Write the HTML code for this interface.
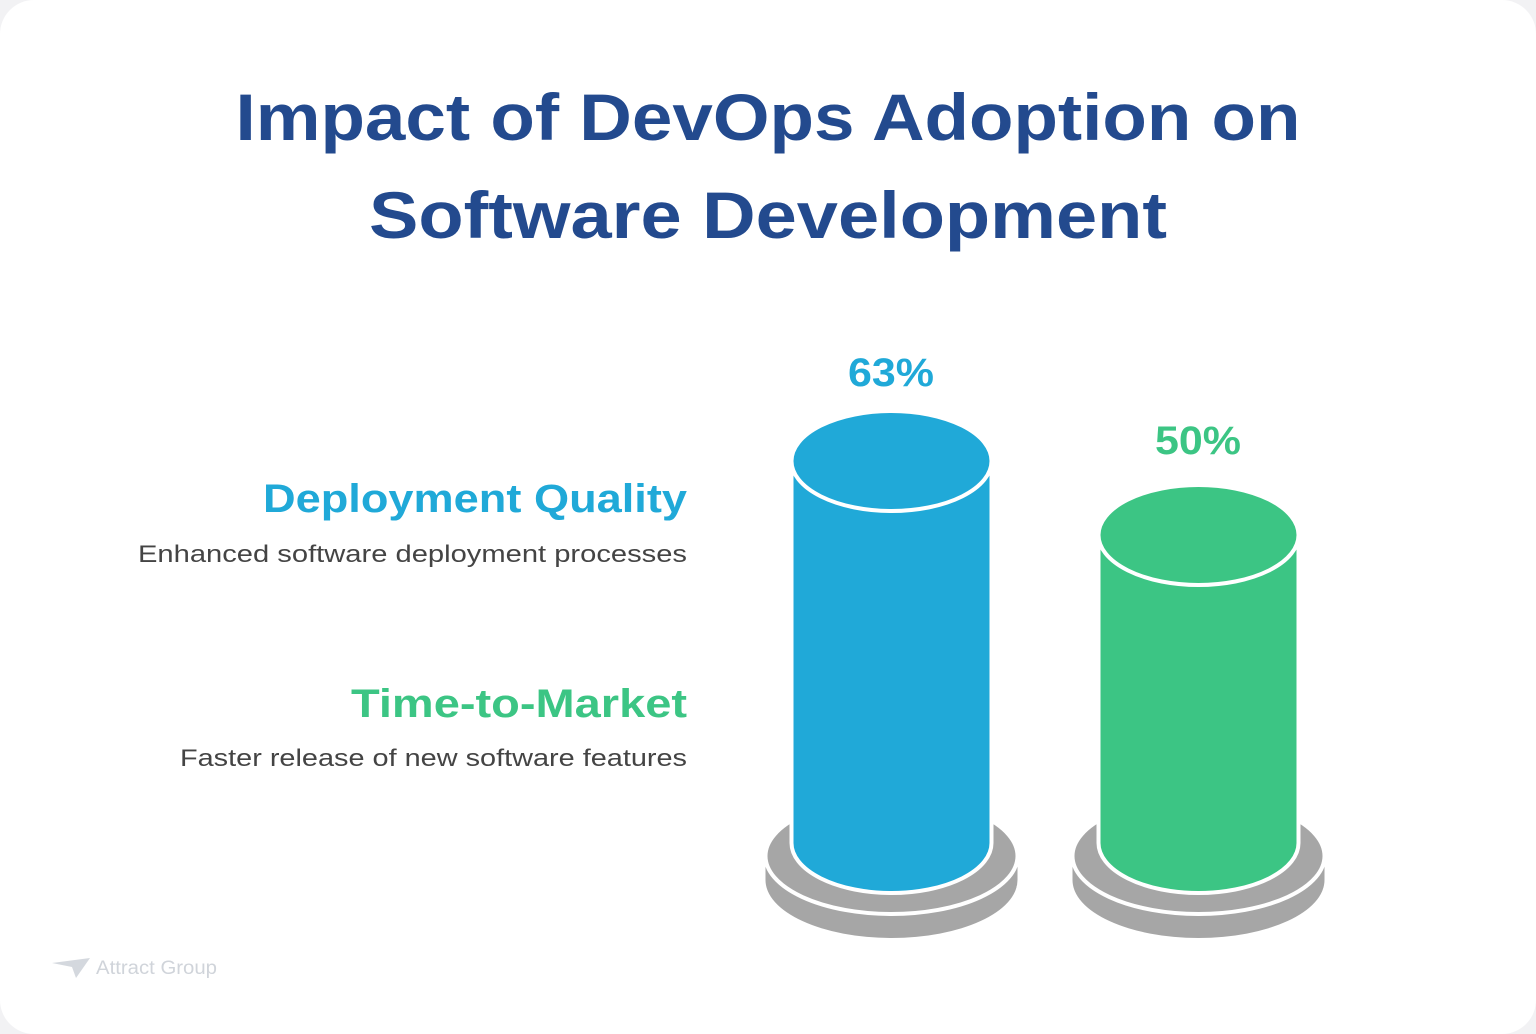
<!DOCTYPE html>
<html><head><style>
html,body{margin:0;padding:0;background:#f2f2f4;}
svg{display:block;}
text{font-family:"Liberation Sans",sans-serif;font-weight:bold;}
</style></head><body>
<svg width="1536" height="1034" viewBox="0 0 1536 1034" xmlns="http://www.w3.org/2000/svg">
<rect x="0" y="0" width="1536" height="1034" rx="34" fill="#ffffff"/>
<text x="768" y="140" text-anchor="middle" font-size="66" fill="#234a8e" textLength="1065" lengthAdjust="spacingAndGlyphs">Impact of DevOps Adoption on</text>
<text x="768" y="238" text-anchor="middle" font-size="66" fill="#234a8e" textLength="798" lengthAdjust="spacingAndGlyphs">Software Development</text>

<text x="687" y="512" text-anchor="end" font-size="40" fill="#20a9d8" textLength="424" lengthAdjust="spacingAndGlyphs">Deployment Quality</text>
<text x="687" y="562" text-anchor="end" font-size="24" font-weight="normal" style="font-weight:500" fill="#444" textLength="549" lengthAdjust="spacingAndGlyphs">Enhanced software deployment processes</text>
<text x="687" y="717" text-anchor="end" font-size="40" fill="#3cc584" textLength="336" lengthAdjust="spacingAndGlyphs">Time-to-Market</text>
<text x="687" y="766" text-anchor="end" font-size="24" style="font-weight:500" fill="#444" textLength="507" lengthAdjust="spacingAndGlyphs">Faster release of new software features</text>

<g id="b1">
<ellipse cx="891.5" cy="880" rx="126" ry="58" fill="#a6a6a6"/>
<rect x="765.5" y="858" width="252" height="22" fill="#a6a6a6"/>
<ellipse cx="891.5" cy="856" rx="126" ry="58" fill="#a6a6a6" stroke="#fff" stroke-width="4"/>
<path d="M791.5 461 L791.5 843 A100 50 0 0 0 991.5 843 L991.5 461 Z" fill="#20a9d8" stroke="#fff" stroke-width="4"/>
<ellipse cx="891.5" cy="461" rx="100" ry="50" fill="#20a9d8" stroke="#fff" stroke-width="4"/>
</g>
<g>
<ellipse cx="1198.5" cy="880" rx="126" ry="58" fill="#a6a6a6"/>
<rect x="1072.5" y="858" width="252" height="22" fill="#a6a6a6"/>
<ellipse cx="1198.5" cy="856" rx="126" ry="58" fill="#a6a6a6" stroke="#fff" stroke-width="4"/>
<path d="M1098.5 535 L1098.5 843 A100 50 0 0 0 1298.5 843 L1298.5 535 Z" fill="#3cc584" stroke="#fff" stroke-width="4"/>
<ellipse cx="1198.5" cy="535" rx="100" ry="50" fill="#3cc584" stroke="#fff" stroke-width="4"/>
</g>
<text x="891" y="386" text-anchor="middle" font-size="40" fill="#20a9d8" textLength="86" lengthAdjust="spacingAndGlyphs">63%</text>
<text x="1198" y="454" text-anchor="middle" font-size="40" fill="#3cc584" textLength="86" lengthAdjust="spacingAndGlyphs">50%</text>

<path d="M52 963 L90 958 L76 978 L72 967 Z" fill="#d4d8de"/>
<text x="96" y="974" font-size="19" style="font-weight:normal" fill="#d0d4da" textLength="121" lengthAdjust="spacingAndGlyphs">Attract Group</text>
</svg>
</body></html>
